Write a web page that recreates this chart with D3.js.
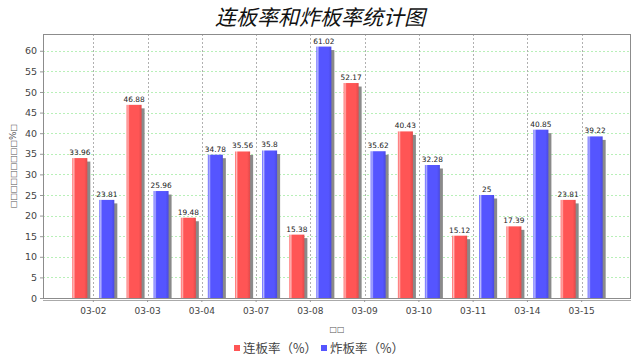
<!DOCTYPE html>
<html><head><meta charset="utf-8">
<script src="https://cdn.jsdelivr.net/npm/d3@7"></script>
<style>body{margin:0;background:#fff}svg{display:block}</style>
</head><body>
<svg id="c" width="640" height="360"></svg>
<script>
const categories = ["03-02","03-03","03-04","03-07","03-08","03-09","03-10","03-11","03-14","03-15"];
const seriesNames = ["连板率（%）","炸板率（%）"];
const lianban = [33.96,46.88,19.48,35.56,15.38,52.17,40.43,15.12,17.39,23.81];
const zhaban = [23.81,25.96,34.78,35.8,61.02,35.62,32.28,25,40.85,39.22];
const yTicks = [0,5,10,15,20,25,30,35,40,45,50,55,60];
const title = "连板率和炸板率统计图";
const yLabelBoxes = ["□□□□□□□□□","%","□"];
const xLabel = "□□";

const svg = d3.select("#c");
const P = {l:43, t:34, r:631, b:298};
const colors = ["#ff5555","#5555ff"];
const darker = ["#e04a4a","#4a4ae0"];

const yMax = d3.max(lianban.concat(zhaban)) * 1.05;
const y = d3.scaleLinear().domain([0, yMax]).range([P.b, P.t]);
const x = d3.scaleBand().domain(categories).range([P.l + 23.2, P.r - 22.2]).paddingInner(0).paddingOuter(0);
const inner = d3.scaleBand().domain([0,1]).range([-21, 21]).paddingInner(0.444);

// gradients
const defs = svg.append("defs");
colors.forEach((c,i)=>{
  const g = defs.append("linearGradient").attr("id","g"+i).attr("x1","0").attr("x2","1").attr("y1","0").attr("y2","0");
  g.append("stop").attr("offset","0%").attr("stop-color",c);
  g.append("stop").attr("offset","9%").attr("stop-color",d3.interpolateRgb(c,"#fff")(0.6));
  g.append("stop").attr("offset","20%").attr("stop-color",c);
  g.append("stop").attr("offset","80%").attr("stop-color",c);
  g.append("stop").attr("offset","100%").attr("stop-color",darker[i]);
});
defs.append("clipPath").attr("id","plotclip").append("rect")
  .attr("x",P.l).attr("y",P.t).attr("width",P.r-P.l).attr("height",P.b-P.t);

// title
svg.append("text").attr("x",320).attr("y",25).attr("text-anchor","middle")
  .attr("font-family","'Noto Sans CJK SC'").attr("font-size",21).attr("font-style","italic")
  .attr("fill","#111").text(title);

// plot background
svg.append("rect").attr("x",P.l).attr("y",P.t).attr("width",P.r-P.l).attr("height",P.b-P.t).attr("fill","#fff");

// horizontal grid
svg.append("g").selectAll("line").data(yTicks.filter(d=>d>0)).join("line")
  .attr("x1",P.l).attr("x2",P.r).attr("y1",d=>Math.round(y(d))+0.5).attr("y2",d=>Math.round(y(d))+0.5)
  .attr("stroke","#b8f0b8").attr("stroke-dasharray","2,2");
// vertical grid
svg.append("g").selectAll("line").data(categories).join("line")
  .attr("x1",d=>Math.round(x(d)+x.bandwidth()/2)+0.5).attr("x2",d=>Math.round(x(d)+x.bandwidth()/2)+0.5)
  .attr("y1",P.t).attr("y2",P.b)
  .attr("stroke","#b0b0b0").attr("stroke-dasharray","2,2");

const data = [];
categories.forEach((c,ci)=>{
  [lianban[ci], zhaban[ci]].forEach((v,si)=>data.push({c, si, v}));
});
const bx = d => x(d.c) + x.bandwidth()/2 + inner(d.si);
const bw = inner.bandwidth();

const gBars = svg.append("g").attr("clip-path","url(#plotclip)");
data.forEach(d=>{
  gBars.append("rect").attr("x",bx(d)+3).attr("y",y(d.v)+3.5)
    .attr("width",bw).attr("height",P.b - y(d.v)).attr("fill","#8a8a8a");
  gBars.append("rect").attr("x",bx(d)).attr("y",y(d.v))
    .attr("width",bw).attr("height",P.b - y(d.v)).attr("fill","url(#g"+d.si+")");
});

// value labels
svg.append("g").selectAll("text").data(data).join("text")
  .attr("x",d=>bx(d)+bw/2).attr("y",d=>y(d.v)-3)
  .attr("text-anchor","middle").attr("font-family","'DejaVu Sans'").attr("font-size",7.4)
  .attr("fill","#222").text(d=>String(d.v));

// plot border
svg.append("rect").attr("x",P.l+0.5).attr("y",P.t+0.5).attr("width",P.r-P.l-1).attr("height",P.b-P.t)
  .attr("fill","none").attr("stroke","#8c8c8c");

// y axis
const yAxis = d3.axisLeft(y).tickValues(yTicks).tickSize(3).tickPadding(3).tickFormat(d3.format("d"));
const ga = svg.append("g").attr("transform",`translate(${P.l},0)`).call(yAxis);
ga.select(".domain").remove();
ga.selectAll("line").attr("stroke","#999");
ga.selectAll("text").attr("font-family","'DejaVu Sans'").attr("font-size",9.5).attr("fill","#444");

// x axis
const xAxis = d3.axisBottom(x).tickSize(2).tickPadding(6);
const gx = svg.append("g").attr("transform",`translate(0,${P.b+2})`).call(xAxis);
gx.select(".domain").attr("d",`M${P.l},0.5H${P.r}`).attr("stroke","#aaa");
gx.selectAll("line").attr("stroke","#999");
gx.selectAll("text").attr("font-family","'DejaVu Sans'").attr("font-size",9).attr("fill","#444");

// axis labels
const yl = svg.append("text").attr("transform",`translate(16,${(P.t+P.b)/2}) rotate(-90)`)
  .attr("text-anchor","middle").attr("font-family","'DejaVu Sans'").attr("fill","#555");
yLabelBoxes.forEach((t,i)=>yl.append("tspan").attr("font-size", i===1?9:8).text(t));
svg.append("text").attr("x",(P.l+P.r)/2).attr("y",332).attr("text-anchor","middle")
  .attr("font-family","'DejaVu Sans'").attr("font-size",8).attr("fill","#555").text(xLabel);

// legend
const legend = svg.append("g");
const items = [{x:234, name:seriesNames[0], c:colors[0]},{x:321, name:seriesNames[1], c:colors[1]}];
items.forEach(it=>{
  legend.append("rect").attr("x",it.x).attr("y",345).attr("width",6).attr("height",6).attr("fill",it.c);
  legend.append("text").attr("x",it.x+9).attr("y",353).attr("font-family","'Noto Sans CJK SC'")
    .attr("font-size",12.5).attr("fill","#444").text(it.name);
});
</script>
</body></html>
